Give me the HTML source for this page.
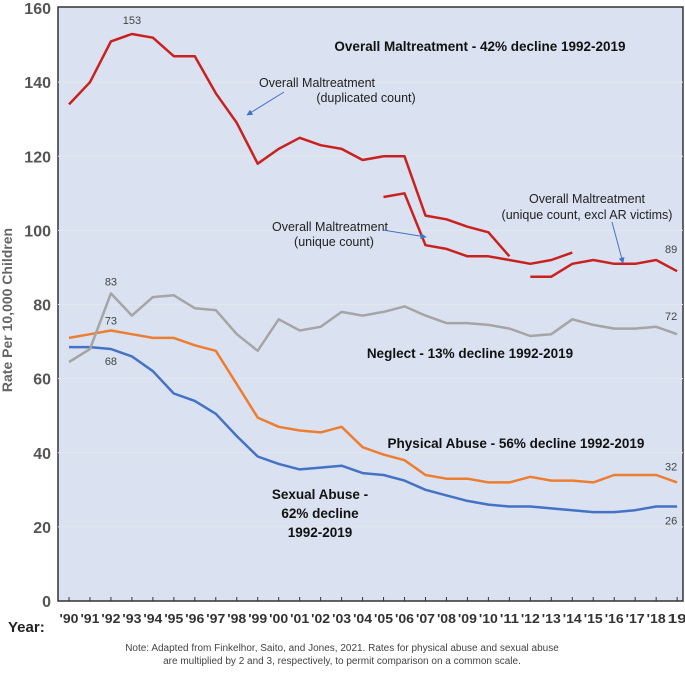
<!DOCTYPE html>
<html><head><meta charset="utf-8"><style>
body{margin:0;background:#fff;font-family:"Liberation Sans",sans-serif}
svg text{font-family:"Liberation Sans",sans-serif}
</style></head><body>
<svg id="c" width="685" height="668" viewBox="0 0 685 668">
<defs><marker id="ah" viewBox="0 0 10 10" refX="9" refY="5" markerWidth="6" markerHeight="6" orient="auto"><path d="M0 0L10 5L0 10z" fill="#4472c4"/></marker></defs>
<rect x="58" y="7" width="625" height="594" fill="#dae2f1" stroke="#333" stroke-width="1.5"/>
<g id="grid"></g><g id="axes"></g><g id="lines"></g>
<text x="12" y="310" transform="rotate(-90 12 310)" text-anchor="middle" font-size="14" font-weight="bold" fill="#666">Rate Per 10,000 Children</text>
<text x="8" y="632" font-size="15" font-weight="bold" fill="#222">Year:</text>
<text x="480" y="51" text-anchor="middle" font-size="13.5" font-weight="bold" fill="#111">Overall Maltreatment - 42% decline 1992-2019</text>
<text x="317" y="87" text-anchor="middle" font-size="12.5" fill="#222">Overall Maltreatment</text>
<text x="366" y="102" text-anchor="middle" font-size="12.5" fill="#222">(duplicated count)</text>
<line x1="284" y1="92" x2="247" y2="115" stroke="#4472c4" marker-end="url(#ah)"/>
<text x="330" y="231" text-anchor="middle" font-size="12.5" fill="#222">Overall Maltreatment</text>
<text x="334" y="246" text-anchor="middle" font-size="12.5" fill="#222">(unique count)</text>
<line x1="383" y1="230" x2="426" y2="237" stroke="#4472c4" marker-end="url(#ah)"/>
<text x="587" y="203" text-anchor="middle" font-size="12.5" fill="#222">Overall Maltreatment</text>
<text x="587" y="219" text-anchor="middle" font-size="12.5" fill="#222">(unique count, excl AR victims)</text>
<line x1="612" y1="222" x2="623" y2="263" stroke="#4472c4" marker-end="url(#ah)"/>
<text x="470" y="358" text-anchor="middle" font-size="13.5" font-weight="bold" fill="#111">Neglect - 13% decline 1992-2019</text>
<text x="516" y="448" text-anchor="middle" font-size="13.5" font-weight="bold" fill="#111">Physical Abuse - 56% decline 1992-2019</text>
<text x="320" y="499" text-anchor="middle" font-size="13.5" font-weight="bold" fill="#111">Sexual Abuse -</text>
<text x="320" y="518" text-anchor="middle" font-size="13.5" font-weight="bold" fill="#111">62% decline</text>
<text x="320" y="537" text-anchor="middle" font-size="13.5" font-weight="bold" fill="#111">1992-2019</text>
<text x="342" y="651" text-anchor="middle" font-size="10" fill="#444">Note: Adapted from Finkelhor, Saito, and Jones, 2021. Rates for physical abuse and sexual abuse</text>
<text x="342" y="664" text-anchor="middle" font-size="10" fill="#444">are multiplied by 2 and 3, respectively, to permit comparison on a common scale.</text>
<g id="vals"></g>
</svg>
<script>
const years=[1990,1991,1992,1993,1994,1995,1996,1997,1998,1999,2000,2001,2002,2003,2004,2005,2006,2007,2008,2009,2010,2011,2012,2013,2014,2015,2016,2017,2018,2019];
const yearLabels=["'90","'91","'92","'93","'94","'95","'96","'97","'98","'99","'00","'01","'02","'03","'04","'05","'06","'07","'08","'09","'10","'11","'12","'13","'14","'15","'16","'17","'18","19"];
const yTicks=[0,20,40,60,80,100,120,140,160];
const dupYears=[1990,1991,1992,1993,1994,1995,1996,1997,1998,1999,2000,2001,2002,2003,2004,2005,2006,2007,2008,2009,2010,2011];
const dupVals=[134,140,151,153,152,147,147,137,129,118,122,125,123,122,119,120,120,104,103,101,99.5,93];
const uniqYears=[2005,2006,2007,2008,2009,2010,2011,2012,2013,2014];
const uniqVals=[109,110,96,95,93,93,92,91,92,94];
const arYears=[2012,2013,2014,2015,2016,2017,2018,2019];
const arVals=[87.5,87.5,91,92,91,91,92,89];
const neglect=[64.5,68,83,77,82,82.5,79,78.5,72,67.5,76,73,74,78,77,78,79.5,77,75,75,74.5,73.5,71.5,72,76,74.5,73.5,73.5,74,72];
const physical=[71,72,73,72,71,71,69,67.5,58.5,49.5,47,46,45.5,47,41.5,39.5,38,34,33,33,32,32,33.5,32.5,32.5,32,34,34,34,32];
const sexual=[68.5,68.5,68,66,62,56,54,50.5,44.5,39,37,35.5,36,36.5,34.5,34,32.5,30,28.5,27,26,25.5,25.5,25,24.5,24,24,24.5,25.5,25.5];
const NS='http://www.w3.org/2000/svg';
const x=yr=>69+(yr-1990)*20.97;
const y=v=>601-v*3.706;
function mk(tag,attrs,parent){const e=document.createElementNS(NS,tag);for(const k in attrs)e.setAttribute(k,attrs[k]);document.getElementById(parent).appendChild(e);return e;}
yTicks.forEach(t=>{
 if(t>0&&t<160){const g=mk('line',{x1:58,x2:683,y1:y(t),y2:y(t),stroke:'#e3e6ea','stroke-width':1},'grid');
 
 }
 const tx=mk('text',{x:51,y:y(t)+6,'text-anchor':'end','font-size':16,'font-weight':'bold',fill:'#555'},'axes');tx.textContent=t;
 
 
});
years.forEach((yr,i)=>{
 const tk=mk('line',{x1:x(yr),x2:x(yr),y1:597,y2:601,stroke:'#333'},'axes');
 
 
 const tx=mk('text',{x:x(yr),y:623,'text-anchor':'middle','font-size':12.5,'font-weight':'bold',fill:'#333',textLength:19,lengthAdjust:'spacingAndGlyphs'},'axes');tx.textContent=yearLabels[i];
 
 
});
function line(xs,vs,color,name){
 const d=xs.map((yr,i)=>(i?'L':'M')+x(yr).toFixed(1)+' '+y(vs[i]).toFixed(1)).join(' ');
 const p=mk('path',{d:d,fill:'none',stroke:color,'stroke-width':2.5,'stroke-linejoin':'round'},'lines');
 
 
}
line(years,sexual,'#4472c4','sexual-abuse-line');
line(years,physical,'#ed7d31','physical-abuse-line');
line(years,neglect,'#a5a5a5','neglect-line');
line(dupYears,dupVals,'#c9211e','overall-duplicated-line');
line(uniqYears,uniqVals,'#c9211e','overall-unique-line');
line(arYears,arVals,'#c9211e','overall-excl-ar-line');
function val(v,px,py){const t=mk('text',{x:px,y:py,'text-anchor':'middle','font-size':11,fill:'#444'},'vals');t.textContent=Math.round(v);
 
 }
val(dupVals[3],x(1993),y(dupVals[3])-10);
val(neglect[2],x(1992),y(neglect[2])-8);
val(physical[2],x(1992),y(physical[2])-6);
val(sexual[2],x(1992),y(sexual[2])+16);
val(arVals[7],x(2019)-6,y(arVals[7])-18);
val(neglect[29],x(2019)-6,y(neglect[29])-14);
val(physical[29],x(2019)-6,y(physical[29])-12);
val(sexual[29],x(2019)-6,y(sexual[29])+18);
</script>
</body></html>
